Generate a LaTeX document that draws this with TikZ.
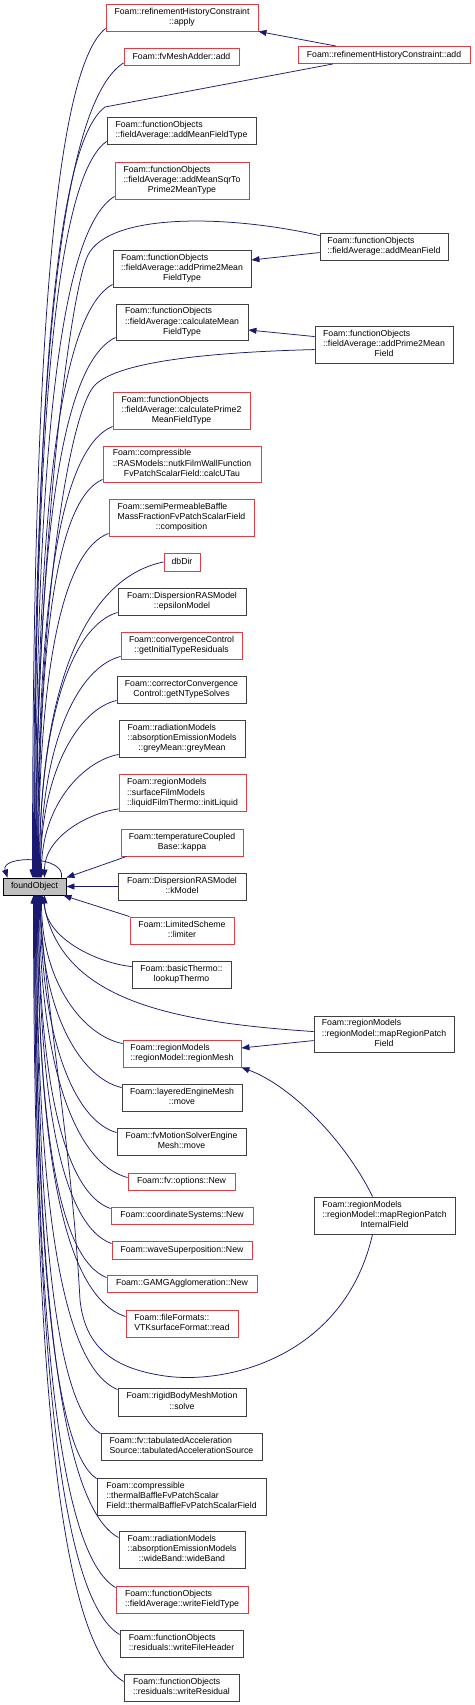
\documentclass[tikz,border=0pt]{standalone}
\usepackage{fontspec}
\setmainfont{Liberation Sans}
\usetikzlibrary{arrows.meta,calc}
\definecolor{edgec}{HTML}{191970}
\definecolor{redc}{HTML}{E33B45}
\definecolor{boxk}{HTML}{404040}
\definecolor{fogray}{HTML}{BFBFBF}
\newcommand\txA[1]{\begin{tabular}{@{}c@{}}#1\end{tabular}}
\newcommand\txB[2]{\begin{tabular}{@{}l@{}}#1\\\multicolumn{1}{@{}c@{}}{#2}\end{tabular}}
\newcommand\txC[3]{\begin{tabular}{@{}l@{}}#1\\#2\\\multicolumn{1}{@{}c@{}}{#3}\end{tabular}}
\newcommand\nd[7]{\node[#6,minimum width=#4pt,minimum height=#5pt] (#1) at (#2,#3) {#7};}
\newcommand\autoedge[2]{%
 \draw[conn] let \p1=(#1), \p2=(#2), \n1={0.28+0.4*max(0,1-abs(\y1-\y2)/400)} in
 (\p1) .. controls ({\x2+\n1*(\x1-\x2)},{\y1+0.05*(\y2-\y1)}) and ({\x2},{\y1+0.4*(\y2-\y1)}) .. (\p2);}
\begin{document}
\begin{tikzpicture}[x=1pt,y=-1pt,
  box/.style={draw=boxk, line width=0.9pt, inner xsep=1pt, inner ysep=0pt, fill=white,
    font=\fontsize{8.7}{10.3}\selectfont},
  rbox/.style={box, draw=redc},
  kbox/.style={box},
  fobox/.style={box, draw=black, fill=fogray},
  conn/.style={draw=edgec, line width=0.75pt, -{Triangle[length=8pt,width=6pt]}}]
\useasboundingbox (0,0) rectangle (474,1705);
% nodes
\nd{apply}{182}{17.5}{152}{27}{rbox}{\txB{Foam::refinementHistoryConstraint}{::apply}}
\nd{fvMeshAdder}{181.5}{57}{115}{17}{rbox}{\txA{Foam::fvMeshAdder::add}}
\nd{rhcAdd}{384}{55}{172}{17}{rbox}{\txA{Foam::refinementHistoryConstraint::add}}
\nd{addMeanFieldType}{181.5}{130.5}{149}{27}{kbox}{\txB{Foam::functionObjects}{::fieldAverage::addMeanFieldType}}
\nd{addMeanSqr}{182}{180.5}{134}{37}{rbox}{\txC{Foam::functionObjects}{::fieldAverage::addMeanSqrTo}{Prime2MeanType}}
\nd{addMeanField}{384}{246.5}{128}{27}{kbox}{\txB{Foam::functionObjects}{::fieldAverage::addMeanField}}
\nd{addPTMFT}{182}{268.5}{138}{37}{kbox}{\txC{Foam::functionObjects}{::fieldAverage::addPrime2Mean}{FieldType}}
\nd{calcMFT}{182}{322}{132}{36}{kbox}{\txC{Foam::functionObjects}{::fieldAverage::calculateMean}{FieldType}}
\nd{addPTMF}{384}{344.5}{138}{37}{kbox}{\txC{Foam::functionObjects}{::fieldAverage::addPrime2Mean}{Field}}
\nd{calcPT}{181.5}{410.5}{137}{37}{rbox}{\txC{Foam::functionObjects}{::fieldAverage::calculatePrime2}{MeanFieldType}}
\nd{calcUTau}{182}{464}{158}{36}{rbox}{\txC{Foam::compressible}{::RASModels::nutkFilmWallFunction}{FvPatchScalarField::calcUTau}}
\nd{composition}{181.5}{517.5}{145}{37}{rbox}{\txC{Foam::semiPermeableBaffle}{MassFractionFvPatchScalarField}{::composition}}
\nd{dbDir}{182}{562}{36}{18}{rbox}{\txA{dbDir}}
\nd{epsilonModel}{182}{601.5}{128}{27}{kbox}{\txB{Foam::DispersionRASModel}{::epsilonModel}}
\nd{getInitial}{181.5}{645.5}{121}{27}{rbox}{\txB{Foam::convergenceControl}{::getInitialTypeResiduals}}
\nd{getNType}{181.5}{689.5}{129}{27}{kbox}{\txB{Foam::correctorConvergence}{Control::getNTypeSolves}}
\nd{greyMean}{182}{738.5}{126}{37}{kbox}{\txC{Foam::radiationModels}{::absorptionEmissionModels}{::greyMean::greyMean}}
\nd{initLiquid}{182.5}{793}{127}{37}{rbox}{\txC{Foam::regionModels}{::surfaceFilmModels}{::liquidFilmThermo::initLiquid}}
\nd{kappa}{182}{842.5}{122}{27}{rbox}{\txB{Foam::temperatureCoupled}{Base::kappa}}
\nd{fo}{34.5}{886.5}{63}{17}{fobox}{\txA{foundObject}}
\nd{kModel}{182}{886.5}{128}{27}{kbox}{\txB{Foam::DispersionRASModel}{::kModel}}
\nd{limiter}{182}{930.5}{104}{27}{rbox}{\txB{Foam::LimitedScheme}{::limiter}}
\nd{lookupThermo}{181.5}{974.5}{99}{27}{kbox}{\txB{Foam::basicThermo::}{lookupThermo}}
\nd{mapRPF}{384}{1034}{140}{36}{kbox}{\txC{Foam::regionModels}{::regionModel::mapRegionPatch}{Field}}
\nd{regionMesh}{182}{1053.5}{118}{27}{rbox}{\txB{Foam::regionModels}{::regionModel::regionMesh}}
\nd{layeredMove}{182}{1097.5}{120}{27}{kbox}{\txB{Foam::layeredEngineMesh}{::move}}
\nd{fvMotionMove}{181.5}{1141.5}{129}{27}{kbox}{\txB{Foam::fvMotionSolverEngine}{Mesh::move}}
\nd{fvOptionsNew}{181.5}{1181.5}{107}{17}{rbox}{\txA{Foam::fv::options::New}}
\nd{mapRPIF}{384.5}{1215.5}{141}{37}{kbox}{\txC{Foam::regionModels}{::regionModel::mapRegionPatch}{InternalField}}
\nd{coordNew}{182}{1215.5}{142}{17}{rbox}{\txA{Foam::coordinateSystems::New}}
\nd{waveNew}{182}{1250}{140}{18}{rbox}{\txA{Foam::waveSuperposition::New}}
\nd{gamgNew}{182}{1283.5}{150}{17}{rbox}{\txA{Foam::GAMGAgglomeration::New}}
\nd{vtkRead}{182}{1323.5}{112}{27}{rbox}{\txB{Foam::fileFormats::}{VTKsurfaceFormat::read}}
\nd{solve}{182}{1402}{128}{28}{kbox}{\txB{Foam::rigidBodyMeshMotion}{::solve}}
\nd{tabAccel}{181.5}{1446.5}{161}{27}{kbox}{\txB{Foam::fv::tabulatedAcceleration}{Source::tabulatedAccelerationSource}}
\nd{thermalBaffle}{181.5}{1496.5}{169}{37}{kbox}{\txC{Foam::compressible}{::thermalBaffleFvPatchScalar}{Field::thermalBaffleFvPatchScalarField}}
\nd{wideBand}{182}{1549.5}{126}{37}{kbox}{\txC{Foam::radiationModels}{::absorptionEmissionModels}{::wideBand::wideBand}}
\nd{writeFieldType}{182}{1599.5}{132}{27}{rbox}{\txB{Foam::functionObjects}{::fieldAverage::writeFieldType}}
\nd{writeFileHeader}{181.5}{1643.5}{123}{27}{kbox}{\txB{Foam::functionObjects}{::residuals::writeFileHeader}}
\nd{writeResidual}{181.5}{1687.5}{115}{27}{kbox}{\txB{Foam::functionObjects}{::residuals::writeResidual}}
% upper edges
\autoedge{[yshift=3pt]apply.south west}{[xshift=-2pt]fo.north}
\autoedge{[yshift=3pt]fvMeshAdder.south west}{[xshift=-1pt]fo.north}
\autoedge{[yshift=3pt]addMeanFieldType.south west}{[xshift=0pt]fo.north}
\autoedge{[yshift=3pt]addMeanSqr.south west}{[xshift=1pt]fo.north}
\autoedge{[yshift=3pt]addPTMFT.south west}{[xshift=2pt]fo.north}
\autoedge{[yshift=3pt]calcMFT.south west}{[xshift=2pt]fo.north}
\autoedge{[yshift=3pt]calcPT.south west}{[xshift=3pt]fo.north}
\autoedge{[yshift=3pt]calcUTau.south west}{[xshift=4pt]fo.north}
\autoedge{[yshift=3pt]composition.south west}{[xshift=4pt]fo.north}
\autoedge{dbDir.west}{[xshift=5pt]fo.north}
\autoedge{[yshift=3pt]epsilonModel.south west}{[xshift=5pt]fo.north}
\autoedge{[yshift=3pt]getInitial.south west}{[xshift=6pt]fo.north}
\autoedge{[yshift=3pt]getNType.south west}{[xshift=6pt]fo.north}
\autoedge{[yshift=3pt]greyMean.south west}{[xshift=7pt]fo.north}
\autoedge{[yshift=3pt]initLiquid.south west}{[xshift=10pt]fo.north}
\draw[conn] ([xshift=6pt]kappa.south west) -- (fo.north east);
\draw[conn] (kModel.west) -- (fo.east);
\draw[conn] (limiter.north west) -- ([xshift=-3pt]fo.south east);
% lower edges
\autoedge{[yshift=-6pt]lookupThermo.north west}{[xshift=10pt]fo.south}
\autoedge{[yshift=-4pt]regionMesh.north west}{[xshift=7pt]fo.south}
\autoedge{[yshift=-4pt]layeredMove.north west}{[xshift=6pt]fo.south}
\autoedge{[yshift=-5pt]fvMotionMove.north west}{[xshift=6pt]fo.south}
\autoedge{[yshift=-5pt]fvOptionsNew.north west}{[xshift=5pt]fo.south}
\autoedge{[yshift=-2pt]coordNew.north west}{[xshift=4pt]fo.south}
\autoedge{[yshift=-3pt]waveNew.north west}{[xshift=4pt]fo.south}
\autoedge{[yshift=-3pt]gamgNew.north west}{[xshift=3pt]fo.south}
\autoedge{[yshift=-7pt]vtkRead.north west}{[xshift=3pt]fo.south}
\autoedge{[yshift=-2pt]solve.north west}{[xshift=2pt]fo.south}
\autoedge{[yshift=-1pt]tabAccel.north west}{[xshift=2pt]fo.south}
\autoedge{[yshift=-1pt]thermalBaffle.north west}{[xshift=1pt]fo.south}
\autoedge{[yshift=-7pt]wideBand.north west}{[xshift=1pt]fo.south}
\autoedge{[yshift=-2pt]writeFieldType.north west}{[xshift=0pt]fo.south}
\autoedge{[yshift=-5pt]writeFileHeader.north west}{[xshift=0pt]fo.south}
\autoedge{[yshift=-8pt]writeResidual.north west}{[xshift=-1pt]fo.south}
% right column edges
\draw[conn] ([xshift=-48pt]rhcAdd.north) -- (apply.south east);
\draw[conn] ([xshift=-51pt]rhcAdd.south) -- (105,107) .. controls (54,145) and (34.5,413) .. ([xshift=0pt]fo.north);
\draw[conn] ([yshift=-20pt]addMeanField.north west) -- ([yshift=8.5pt]addPTMFT.east);
\draw[conn] ([yshift=-3pt]addMeanField.north west) .. controls (230,215) and (110,212) .. (88,255) .. controls (70,290) and (36,560) .. ([xshift=1pt]fo.north);
\draw[conn] ([yshift=-11pt]addPTMF.north west) -- ([yshift=-8pt]calcMFT.east);
\draw[conn] ([yshift=-24pt]addPTMF.north west) .. controls (220,352) and (120,360) .. (95,385) .. controls (70,410) and (38,600) .. ([xshift=3pt]fo.north);
\draw[conn] ([yshift=-25pt]mapRPF.north west) -- ([yshift=5.5pt]regionMesh.east);
\draw[conn] ([yshift=-16pt]mapRPF.north west) .. controls (170,1022) and (60,1000) .. ([xshift=8pt]fo.south);
\draw[conn] ([xshift=-12pt]mapRPIF.north) .. controls (345,1140) and (290,1085) .. (regionMesh.south east);
\draw[conn] ([xshift=-12pt]mapRPIF.south) .. controls (345,1355) and (230,1385) .. (165,1376) .. controls (110,1368) and (85,1345) .. (80,1300) .. controls (72,1150) and (45,1000) .. ([xshift=5pt]fo.south);
% self loop
\draw[conn] ([xshift=-5pt]fo.north east) .. controls (66,855) and (0,855) .. ([xshift=5pt]fo.north west);
\end{tikzpicture}
\end{document}
